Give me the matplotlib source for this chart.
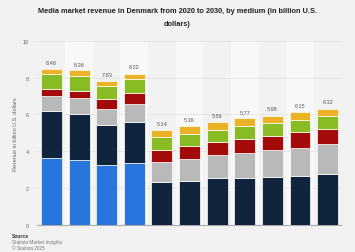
import numpy as np
import matplotlib.pyplot as plt

plt.rcParams['font.family'] = ['Liberation Sans', 'DejaVu Sans']

# Years 2020-2030 (not labelled on the chart)
years = [2020, 2021, 2022, 2023, 2024, 2025, 2026, 2027, 2028, 2029, 2030]

# Segment values, bottom to top
seg_blue = [3.62, 3.52, 3.26, 3.35, 0, 0, 0, 0, 0, 0, 0]
seg_navy = [2.54, 2.50, 2.17, 2.23, 2.35, 2.41, 2.54, 2.55, 2.61, 2.68, 2.76]
seg_grey = [0.83, 0.87, 0.84, 0.98, 1.04, 1.16, 1.25, 1.38, 1.45, 1.52, 1.64]
seg_red = [0.38, 0.38, 0.54, 0.60, 0.67, 0.69, 0.70, 0.73, 0.79, 0.84, 0.80]
seg_green = [0.82, 0.81, 0.73, 0.76, 0.71, 0.70, 0.69, 0.70, 0.66, 0.63, 0.71]
seg_yellow = [0.30, 0.31, 0.27, 0.27, 0.36, 0.40, 0.42, 0.42, 0.43, 0.46, 0.39]
totals = [8.48, 8.36, 7.83, 8.22, 5.14, 5.36, 5.59, 5.77, 5.98, 6.15, 6.32]

colors = ['#2876dd', '#10253d', '#b9b9b9', '#a40a0a', '#88bb24', '#ecb225']

fig = plt.figure(figsize=(3.55, 2.53), dpi=100)
fig.patch.set_facecolor('#f2f2f2')
ax = fig.add_axes([0.104, 0.107, 0.857, 0.728])
ax.set_facecolor('#f2f2f2')

x = np.arange(len(years))
# lighter alternating column bands
for i in x:
    if i % 2 == 1:
        ax.axvspan(i - 0.5, i + 0.5, color='#f8f8f8', zorder=0, lw=0)

bottom = np.zeros(len(years))
for vals, c in zip([seg_blue, seg_navy, seg_grey, seg_red, seg_green, seg_yellow], colors):
    vals = np.array(vals)
    ax.bar(x, vals, bottom=bottom, width=0.76, color=c, edgecolor='white',
           linewidth=0.5, zorder=3)
    bottom += vals

for xi, t in zip(x, totals):
    ax.text(xi, t + 0.22, f'{t:.2f}', ha='center', va='bottom', fontsize=4,
            color='#555555', zorder=4)

ax.set_xlim(-0.525, 10.49)
ax.set_ylim(0, 10)
ax.set_yticks([0, 2, 4, 6, 8, 10])
ax.tick_params(axis='y', labelsize=4, colors='#666666', length=0, pad=6)
ax.set_xticks([])
ax.grid(axis='y', color='#e0e0e0', linewidth=0.5, zorder=1)
for s in ['top', 'right', 'left']:
    ax.spines[s].set_visible(False)
ax.spines['bottom'].set_color('#aaaaaa')
ax.spines['bottom'].set_linewidth(0.8)
ax.set_ylabel('Revenue in billion U.S. dollars', fontsize=4, color='#666666', labelpad=3)

fig.text(0.5, 0.953, 'Media market revenue in Denmark from 2020 to 2030, by medium (in billion U.S.',
         ha='center', va='center', fontsize=5.3, fontweight='bold', color='#222222')
fig.text(0.5, 0.905, 'dollars)', ha='center', va='center', fontsize=5.3,
         fontweight='bold', color='#222222')

fig.text(0.033, 0.067, 'Source', fontsize=3.6, fontweight='bold', color='#333333', va='center')
fig.text(0.033, 0.043, 'Statista Market Insights', fontsize=3.4, color='#777777', va='center')
fig.text(0.033, 0.019, '© Statista 2025', fontsize=3.4, color='#777777', va='center')

fig.savefig('out.png', dpi=100, facecolor=fig.get_facecolor())
